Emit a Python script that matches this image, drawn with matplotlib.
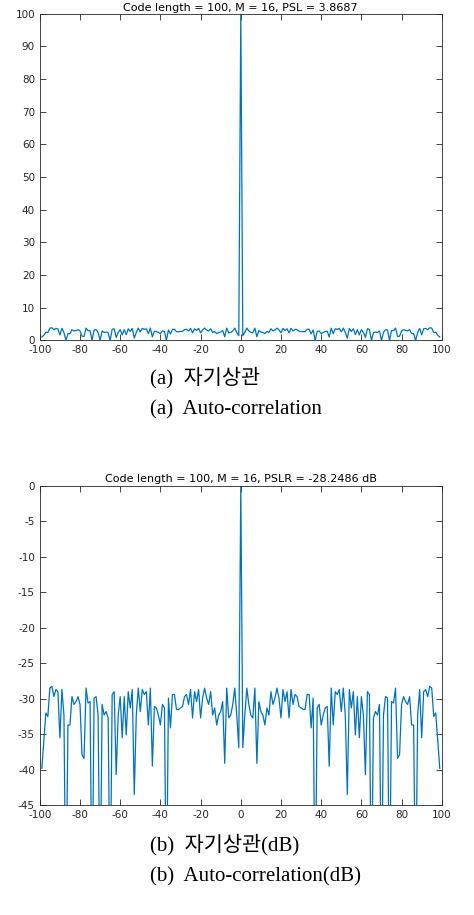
import matplotlib.pyplot as plt
import numpy as np

plt.rcParams['axes.unicode_minus'] = False

# sidelobe levels in dB for lags 1..99 (symmetric); -60 marks nulls below the axis
side_db = [-36.9, -32.3, -28.5, -30.8, -32.3, -32.7, -28.5, -39.1, -30.4, -31.8,
           -32.3, -33.7, -31.3, -32.3, -29.0, -30.8, -29.9, -28.5, -29.9, -32.7,
           -28.7, -30.4, -29.0, -32.7, -28.7, -30.8, -29.4, -29.7, -31.1, -31.3,
           -31.5, -31.5, -29.4, -29.4, -34.1, -29.9, -60.0, -31.3, -30.8, -33.7,
           -32.3, -31.3, -31.1, -39.5, -28.5, -33.7, -29.0, -29.4, -28.7, -31.8,
           -28.5, -32.3, -43.5, -28.7, -31.3, -29.0, -35.1, -29.7, -35.5, -29.7,
           -32.3, -40.7, -29.0, -29.4, -60.0, -32.7, -31.8, -32.3, -30.8, -60.0,
           -32.3, -29.7, -29.9, -60.0, -30.4, -30.6, -28.5, -38.4, -37.9, -30.8,
           -29.7, -30.4, -30.8, -29.7, -33.7, -33.7, -60.0, -32.3, -28.7, -35.5,
           -29.0, -28.7, -29.7, -28.25, -28.5, -32.5, -32.0, -36.0, -39.8]
code_len = 100
side_db = np.array(side_db)
db = np.concatenate([side_db[::-1], [0.0], side_db])
lags = np.arange(-99, 100)
lin = code_len * 10 ** (db / 20)
lin[db <= -60] = 0.0

blue = '#0072BD'
tick_kw = dict(direction='in', length=4, width=0.6, labelsize=7.5,
               colors='#262626', top=True, right=True)

fig = plt.figure(figsize=(4.74, 9.15), dpi=100)

ax1 = fig.add_axes([0.084, 0.628, 0.848, 0.357])
ax1.plot(lags, lin, color=blue, linewidth=0.9)
ax1.set_xlim(-100, 100)
ax1.set_ylim(0, 100)
ax1.set_xticks(np.arange(-100, 101, 20))
ax1.set_yticks(np.arange(0, 101, 10))
ax1.tick_params(**tick_kw)
ax1.set_title('Code length = 100, M = 16, PSL = 3.8687', fontsize=8, pad=2)

ax2 = fig.add_axes([0.084, 0.120, 0.848, 0.349])
ax2.plot(lags, db, color=blue, linewidth=0.9)
ax2.set_xlim(-100, 100)
ax2.set_ylim(-45, 0)
ax2.set_xticks(np.arange(-100, 101, 20))
ax2.set_yticks(np.arange(-45, 1, 5))
ax2.tick_params(**tick_kw)
ax2.set_title('Code length = 100, M = 16, PSLR = -28.2486 dB', fontsize=8, pad=3)

for ax in (ax1, ax2):
    for s in ax.spines.values():
        s.set_color('#262626')
        s.set_linewidth(0.6)

cap = ['Liberation Serif', 'Noto Sans CJK KR']
x0 = 150 / 474
fig.text(x0, 1 - 378 / 915, '(a)  자기상관', family=cap, fontsize=15, ha='left', va='center')
fig.text(x0, 1 - 410 / 915, '(a)  Auto-correlation', family=cap, fontsize=15, ha='left', va='center')
fig.text(x0, 1 - 845 / 915, '(b)  자기상관(dB)', family=cap, fontsize=15, ha='left', va='center')
fig.text(x0, 1 - 877 / 915, '(b)  Auto-correlation(dB)', family=cap, fontsize=15, ha='left', va='center')

fig.savefig('out.png', dpi=100)
